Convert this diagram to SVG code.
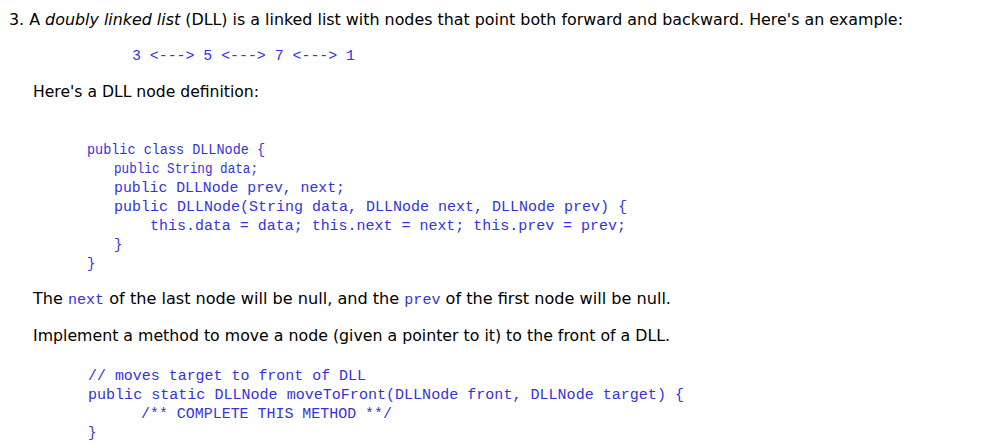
<svg xmlns="http://www.w3.org/2000/svg" width="988" height="447" viewBox="0 0 988 447">
<style>
.p{font-family:"DejaVu Sans","Liberation Sans",sans-serif;font-size:15px;fill:#000}
.c{font-family:"Liberation Mono",monospace;font-size:14px;fill:#3333dd}
</style>
<rect width="988" height="447" fill="#fff"/>
<text class="p" x="9" y="25" textLength="894" lengthAdjust="spacingAndGlyphs">3. A <tspan font-style="italic">doubly linked list</tspan> (DLL) is a linked list with nodes that point both forward and backward. Here's an example:</text>
<text class="c" x="132" y="60" textLength="223" lengthAdjust="spacingAndGlyphs">3 &lt;---&gt; 5 &lt;---&gt; 7 &lt;---&gt; 1</text>
<text class="p" x="33" y="97" textLength="226" lengthAdjust="spacingAndGlyphs">Here's a DLL node definition:</text>
<g id="code1">
<text class="c" x="87" y="154" textLength="178" lengthAdjust="spacingAndGlyphs">public class DLLNode {</text>
<text class="c" x="114" y="173" textLength="144" lengthAdjust="spacingAndGlyphs">public String data;</text>
<text class="c" x="114" y="192" textLength="231" lengthAdjust="spacingAndGlyphs">public DLLNode prev, next;</text>
<text class="c" x="114" y="211" textLength="513" lengthAdjust="spacingAndGlyphs">public DLLNode(String data, DLLNode next, DLLNode prev) {</text>
<text class="c" x="150" y="230" textLength="476" lengthAdjust="spacingAndGlyphs">this.data = data; this.next = next; this.prev = prev;</text>
<text class="c" x="114" y="249">}</text>
<text class="c" x="87" y="268">}</text>
</g>
<text class="p" x="33" y="304" textLength="638" lengthAdjust="spacingAndGlyphs">The <tspan class="c">next</tspan> of the last node will be null, and the <tspan class="c">prev</tspan> of the first node will be null.</text>
<text class="p" x="33" y="341" textLength="637" lengthAdjust="spacingAndGlyphs">Implement a method to move a node (given a pointer to it) to the front of a DLL.</text>
<g id="code2">
<text class="c" x="88" y="380" textLength="278" lengthAdjust="spacingAndGlyphs">// moves target to front of DLL</text>
<text class="c" x="88" y="399" textLength="596" lengthAdjust="spacingAndGlyphs">public static DLLNode moveToFront(DLLNode front, DLLNode target) {</text>
<text class="c" x="141" y="418" textLength="251" lengthAdjust="spacingAndGlyphs">/** COMPLETE THIS METHOD **/</text>
<text class="c" x="88" y="437">}</text>
</g>
</svg>
